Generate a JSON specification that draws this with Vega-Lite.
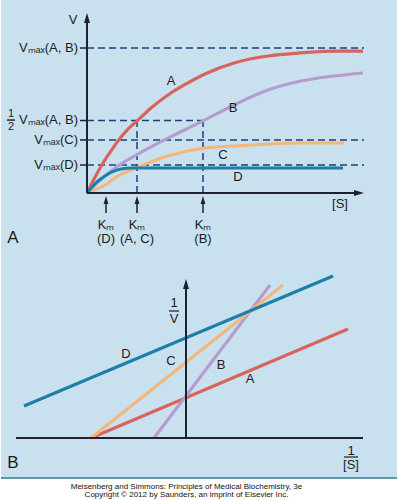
{
  "$schema": "https://vega.github.io/schema/vega-lite/v6.json",
  "padding": 0,
  "background": "white",
  "spacing": 0,
  "title": {
    "text": "Meisenberg and Simmons: Principles of Medical Biochemistry, 3e",
    "subtitle": "Copyright © 2012 by Saunders, an imprint of Elsevier Inc.",
    "orient": "bottom",
    "anchor": "middle",
    "dx": -13,
    "offset": 4,
    "font": "Liberation Sans",
    "fontSize": 8,
    "fontWeight": "normal",
    "color": "#111111",
    "subtitleFont": "Liberation Sans",
    "subtitleFontSize": 8,
    "subtitleColor": "#111111",
    "subtitlePadding": 0,
    "lineHeight": 8,
    "subtitleLineHeight": 8
  },
  "datasets": {
    "curvesA": [
      {"series": "A", "x": 0, "y": 0}, {"series": "A", "x": 2.4, "y": 8.3}, {"series": "A", "x": 4.8, "y": 15.9}, {"series": "A", "x": 7.2, "y": 22.8}, {"series": "A", "x": 9.6, "y": 29.0}, {"series": "A", "x": 12.4, "y": 35.9}, {"series": "A", "x": 16.4, "y": 44.1}, {"series": "A", "x": 20.4, "y": 50.3}, {"series": "A", "x": 25.6, "y": 58.6}, {"series": "A", "x": 32.4, "y": 67.6}, {"series": "A", "x": 39.6, "y": 75.2}, {"series": "A", "x": 47.2, "y": 82.1}, {"series": "A", "x": 58.8, "y": 89.7}, {"series": "A", "x": 72.4, "y": 94.5}, {"series": "A", "x": 85.6, "y": 96.6}, {"series": "A", "x": 98.8, "y": 97.9}, {"series": "A", "x": 110.4, "y": 97.9},
      {"series": "B", "x": 0, "y": 0}, {"series": "B", "x": 3.6, "y": 6.2}, {"series": "B", "x": 7.2, "y": 11.7}, {"series": "B", "x": 12.4, "y": 18.6}, {"series": "B", "x": 20.4, "y": 26.9}, {"series": "B", "x": 32.4, "y": 37.9}, {"series": "B", "x": 46.4, "y": 49.7}, {"series": "B", "x": 58.8, "y": 60.7}, {"series": "B", "x": 72.4, "y": 71.0}, {"series": "B", "x": 85.6, "y": 77.2}, {"series": "B", "x": 98.8, "y": 80.7}, {"series": "B", "x": 110.4, "y": 82.8},
      {"series": "C", "x": 0, "y": 0}, {"series": "C", "x": 7.2, "y": 5.5}, {"series": "C", "x": 12.4, "y": 11.7}, {"series": "C", "x": 20.4, "y": 17.9}, {"series": "C", "x": 32.4, "y": 25.5}, {"series": "C", "x": 47.2, "y": 31.0}, {"series": "C", "x": 58.8, "y": 32.4}, {"series": "C", "x": 72.4, "y": 33.8}, {"series": "C", "x": 85.6, "y": 34.5}, {"series": "C", "x": 102.8, "y": 34.5},
      {"series": "D", "x": 0, "y": 0}, {"series": "D", "x": 2.4, "y": 4.8}, {"series": "D", "x": 4.4, "y": 8.3}, {"series": "D", "x": 7.2, "y": 11.7}, {"series": "D", "x": 10.0, "y": 14.5}, {"series": "D", "x": 13.6, "y": 16.6}, {"series": "D", "x": 17.6, "y": 17.2}, {"series": "D", "x": 102.4, "y": 17.2}
    ],
    "dashA": [
      {"x": 0, "y": 100, "x2": 110.8, "y2": 100},
      {"x": 0, "y": 50, "x2": 46.4, "y2": 50},
      {"x": 0, "y": 36.6, "x2": 110.8, "y2": 36.6},
      {"x": 0, "y": 19.3, "x2": 110.8, "y2": 19.3},
      {"x": 20, "y": 0, "x2": 20, "y2": 50},
      {"x": 46.4, "y": 0, "x2": 46.4, "y2": 50}
    ],
    "axesA": [
      {"x": 0, "y": 0, "x2": 0, "y2": 120},
      {"x": 0, "y": 0, "x2": 108, "y2": 0}
    ],
    "thinA": [
      {"x": -2.8, "y": 100, "x2": 0, "y2": 100},
      {"x": -2.8, "y": 50, "x2": 0, "y2": 50},
      {"x": -2.8, "y": 36.6, "x2": 0, "y2": 36.6},
      {"x": -2.8, "y": 19.3, "x2": 0, "y2": 19.3},
      {"x": 7.6, "y": -13.8, "x2": 7.6, "y2": -6.2},
      {"x": 20, "y": -13.8, "x2": 20, "y2": -6.2},
      {"x": 46.4, "y": -13.8, "x2": 46.4, "y2": -6.2},
      {"x": -32, "y": 50.3, "x2": -28.8, "y2": 50.3}
    ],
    "bigUpA": [{"x": 0, "y": 120.7}],
    "smallUpA": [{"x": 7.6, "y": -4.8}, {"x": 20, "y": -4.8}, {"x": 46.4, "y": -4.8}],
    "rightA": [{"x": 108.8, "y": 0}],
    "rightLabelsA": [
      {"x": -3.6, "y": 100, "label": "Vₘₐₓ(A, B)"},
      {"x": -3.6, "y": 50, "label": "Vₘₐₓ(A, B)"},
      {"x": -3.6, "y": 36.6, "label": "Vₘₐₓ(C)"},
      {"x": -3.6, "y": 19.3, "label": "Vₘₐₓ(D)"}
    ],
    "centerLabelsA": [
      {"x": -5.6, "y": 119.3, "label": "V"},
      {"x": 7.6, "y": -22.1, "label": "Kₘ"},
      {"x": 20, "y": -22.1, "label": "Kₘ"},
      {"x": 46.4, "y": -22.1, "label": "Kₘ"},
      {"x": 7.6, "y": -31.7, "label": "(D)"},
      {"x": 20, "y": -31.7, "label": "(A, C)"},
      {"x": 46.4, "y": -31.7, "label": "(B)"},
      {"x": 101.2, "y": -7.6, "label": "[S]"},
      {"x": 33.6, "y": 77.2, "label": "A"},
      {"x": 58.4, "y": 58.6, "label": "B"},
      {"x": 54.4, "y": 26.2, "label": "C"},
      {"x": 60.4, "y": 11.0, "label": "D"}
    ],
    "fracA": [
      {"x": -30.4, "y": 54.6, "label": "1"},
      {"x": -30.4, "y": 45.6, "label": "2"}
    ],
    "panelA": [{"x": -29.6, "y": -31, "label": "A"}],
    "linesB": [
      {"series": "A", "x": -9.5, "y": 0}, {"series": "A", "x": 16.2, "y": 10.9},
      {"series": "B", "x": -3.2, "y": 0}, {"series": "B", "x": 8.4, "y": 15.3},
      {"series": "C", "x": -9.5, "y": 0}, {"series": "C", "x": 9.7, "y": 15.3},
      {"series": "D", "x": -16.2, "y": 3.2}, {"series": "D", "x": 14.7, "y": 16.2}
    ],
    "axesB": [
      {"x": -17, "y": 0, "x2": 17.7, "y2": 0},
      {"x": 0, "y": 0, "x2": 0, "y2": 15.1}
    ],
    "thinB": [
      {"x": -1.7, "y": 12.7, "x2": -0.7, "y2": 12.7},
      {"x": 15.8, "y": -1.9, "x2": 17.2, "y2": -1.9}
    ],
    "sepB": [{"x": -18.5, "y": -4.0, "x2": 21.2, "y2": -4.0}],
    "bigUpB": [{"x": 0, "y": 15.4}],
    "centerLabelsB": [
      {"x": -1.2, "y": 13.5, "label": "1"},
      {"x": -1.2, "y": 11.9, "label": "V"},
      {"x": 16.5, "y": -1.3, "label": "1"},
      {"x": 16.5, "y": -2.7, "label": "[S]"},
      {"x": -6, "y": 8.4, "label": "D"},
      {"x": -1.5, "y": 7.7, "label": "C"},
      {"x": 3.5, "y": 7.3, "label": "B"},
      {"x": 6.4, "y": 5.9, "label": "A"}
    ],
    "panelB": [{"x": -17.3, "y": -2.5, "label": "B"}]
  },
  "resolve": {"scale": {"x": "independent", "y": "independent"}},
  "vconcat": [
    {
      "width": 397,
      "height": 248,
      "view": {"fill": "#c9e1ee", "stroke": null},
      "encoding": {
        "x": {"field": "x", "type": "quantitative", "scale": {"domain": [-34.4, 124.4], "nice": false, "zero": false}, "axis": null},
        "y": {"field": "y", "type": "quantitative", "scale": {"domain": [-37.93, 133.1], "nice": false, "zero": false}, "axis": null}
      },
      "layer": [
        {
          "data": {"name": "dashA"},
          "mark": {"type": "rule", "color": "#1f3f7a", "strokeWidth": 1.5, "strokeDash": [7, 4]},
          "encoding": {"x2": {"field": "x2"}, "y2": {"field": "y2"}}
        },
        {
          "data": {"name": "curvesA"},
          "mark": {"type": "line", "strokeCap": "butt", "interpolate": "monotone"},
          "encoding": {
            "color": {"field": "series", "type": "nominal", "scale": {"domain": ["A", "B", "C", "D"], "range": ["#d9645f", "#b59ccf", "#f3b77c", "#1d7fa8"]}, "legend": null},
            "strokeWidth": {"field": "series", "type": "nominal", "scale": {"domain": ["A", "B", "C", "D"], "range": [3.2, 3, 3, 4]}, "legend": null}
          }
        },
        {
          "data": {"name": "axesA"},
          "mark": {"type": "rule", "color": "#1c2230", "strokeWidth": 2},
          "encoding": {"x2": {"field": "x2"}, "y2": {"field": "y2"}}
        },
        {
          "data": {"name": "thinA"},
          "mark": {"type": "rule", "color": "#1c2230", "strokeWidth": 1.5},
          "encoding": {"x2": {"field": "x2"}, "y2": {"field": "y2"}}
        },
        {
          "data": {"name": "bigUpA"},
          "mark": {"type": "point", "shape": "M0,-1L0.6,1L-0.6,1Z", "filled": true, "color": "#1c2230", "opacity": 1, "size": 100}
        },
        {
          "data": {"name": "smallUpA"},
          "mark": {"type": "point", "shape": "M0,-1L0.6,1L-0.6,1Z", "filled": true, "color": "#1c2230", "opacity": 1, "size": 64}
        },
        {
          "data": {"name": "rightA"},
          "mark": {"type": "point", "shape": "M1,0L-1,-0.6L-1,0.6Z", "filled": true, "color": "#1c2230", "opacity": 1, "size": 100}
        },
        {
          "data": {"name": "rightLabelsA"},
          "mark": {"type": "text", "align": "right", "baseline": "middle", "font": "Liberation Sans", "fontSize": 13, "color": "#1c1c1c"},
          "encoding": {"text": {"field": "label"}}
        },
        {
          "data": {"name": "centerLabelsA"},
          "mark": {"type": "text", "align": "center", "baseline": "middle", "font": "Liberation Sans", "fontSize": 13, "color": "#1c1c1c"},
          "encoding": {"text": {"field": "label"}}
        },
        {
          "data": {"name": "fracA"},
          "mark": {"type": "text", "align": "center", "baseline": "middle", "font": "Liberation Sans", "fontSize": 11, "color": "#1c1c1c"},
          "encoding": {"text": {"field": "label"}}
        },
        {
          "data": {"name": "panelA"},
          "mark": {"type": "text", "align": "center", "baseline": "middle", "font": "Liberation Sans", "fontSize": 17, "color": "#1c1c1c"},
          "encoding": {"text": {"field": "label"}}
        }
      ]
    },
    {
      "width": 397,
      "height": 231,
      "view": {"fill": "#c9e1ee", "stroke": null},
      "encoding": {
        "x": {"field": "x", "type": "quantitative", "scale": {"domain": [-18.5, 21.2], "nice": false, "zero": false}, "axis": null},
        "y": {"field": "y", "type": "quantitative", "scale": {"domain": [-4.1, 19.0], "nice": false, "zero": false}, "axis": null}
      },
      "layer": [
        {
          "data": {"name": "linesB"},
          "mark": {"type": "line", "strokeCap": "butt"},
          "encoding": {
            "color": {"field": "series", "type": "nominal", "scale": {"domain": ["A", "B", "C", "D"], "range": ["#d9645f", "#b59ccf", "#f3b77c", "#1d7fa8"]}, "legend": null},
            "strokeWidth": {"field": "series", "type": "nominal", "scale": {"domain": ["A", "B", "C", "D"], "range": [3, 3, 3, 3.5]}, "legend": null}
          }
        },
        {
          "data": {"name": "axesB"},
          "mark": {"type": "rule", "color": "#1c2230", "strokeWidth": 2},
          "encoding": {"x2": {"field": "x2"}, "y2": {"field": "y2"}}
        },
        {
          "data": {"name": "thinB"},
          "mark": {"type": "rule", "color": "#1c2230", "strokeWidth": 1.2},
          "encoding": {"x2": {"field": "x2"}, "y2": {"field": "y2"}}
        },
        {
          "data": {"name": "sepB"},
          "mark": {"type": "rule", "color": "#3b7d8f", "strokeWidth": 1.5},
          "encoding": {"x2": {"field": "x2"}, "y2": {"field": "y2"}}
        },
        {
          "data": {"name": "bigUpB"},
          "mark": {"type": "point", "shape": "M0,-1L0.6,1L-0.6,1Z", "filled": true, "color": "#1c2230", "opacity": 1, "size": 100}
        },
        {
          "data": {"name": "centerLabelsB"},
          "mark": {"type": "text", "align": "center", "baseline": "middle", "font": "Liberation Sans", "fontSize": 13, "color": "#1c1c1c"},
          "encoding": {"text": {"field": "label"}}
        },
        {
          "data": {"name": "panelB"},
          "mark": {"type": "text", "align": "center", "baseline": "middle", "font": "Liberation Sans", "fontSize": 17, "color": "#1c1c1c"},
          "encoding": {"text": {"field": "label"}}
        }
      ]
    }
  ],
  "config": {
    "view": {"stroke": null},
    "concat": {"spacing": 0},
    "axis": {"disable": true},
    "legend": {"disable": true}
  }
}
